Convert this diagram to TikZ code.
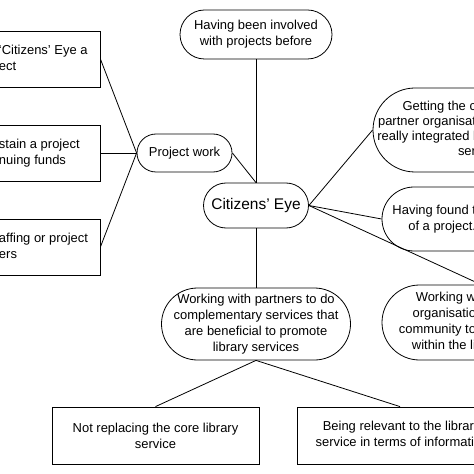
\documentclass[tikz,border=0pt]{standalone}
\usepackage{fontspec}
\setmainfont{Liberation Sans}

\newcommand{\cutright}[2]{\rlap{\hspace*{#1}\llap{\begin{tabular}{@{}r@{}}#2\end{tabular}}}}
\newcommand{\cutleft}[2]{\llap{\rlap{\begin{tabular}{@{}l@{}}#2\end{tabular}}\hspace*{#1}}}

\begin{document}
\begin{tikzpicture}[x=1bp, y=-1bp, line width=0.8bp,
	every node/.style={font=\fontsize{13}{16}\selectfont, inner sep=0pt},
	pill/.style={draw, rectangle, rounded corners=#1},
	box/.style={draw, rectangle}]
	\useasboundingbox (0,0) rectangle (474,474);
	\clip (0,0) rectangle (474,474);

	\node[pill=24.5bp, minimum width=152bp, minimum height=49bp, align=center] (inv) at (256,34.5) {Having been involved\\with projects before};
	\node[pill=22.5bp, minimum width=105bp, minimum height=45bp, font=\fontsize{15.5}{18}\selectfont] (eye) at (256,205.5) {Citizens’ Eye};
	\node[pill=19bp, minimum width=95bp, minimum height=38bp] (pw) at (184.5,153) {Project work};

	\node[box, minimum width=200bp, minimum height=56bp] (make) at (0,59) {\cutleft{1bp}{‘Citizens’ Eye a\\ect}};
	\node[box, minimum width=200bp, minimum height=56bp] (fund) at (0,153) {\cutleft{1bp}{stain a project\\nuing funds}};
	\node[box, minimum width=200bp, minimum height=56bp] (staff) at (0,247) {\cutleft{1bp}{affing or project\\ers}};

	\node[pill=42bp, minimum width=214bp, minimum height=84bp, font=\fontsize{13}{15}\selectfont] (get) at (480,130) {\cutright{-4bp}{Getting the c\\partner organisat\\really integrated l\\ser}};
	\node[pill=32bp, minimum width=196bp, minimum height=64bp] (found) at (480,219) {\cutright{-4bp}{Having found t\\of a project.}};
	\node[pill=37.5bp, minimum width=198bp, minimum height=75bp] (ww) at (481,322.5) {\cutright{-5bp}{Working w\\organisatio\\community to\\within the li}};

	\node[pill=36bp, minimum width=189bp, minimum height=72bp, align=center] (wp) at (256,324) {Working with partners to do\\complementary services that\\are beneficial to promote\\library services};
	\node[box, minimum width=207bp, minimum height=57bp, align=center] (core) at (155.5,435.5) {Not replacing the core library\\service};
	\node[box, minimum width=206bp, minimum height=57bp] (rel) at (400,435.5) {\cutright{74bp}{Being relevant to the librar\\service in terms of informati}};

	\draw (inv.south) -- (eye.north);
	\draw (pw.east) -- (eye.north);
	\draw (make.east) -- (pw.west);
	\draw (fund.east) -- (pw.west);
	\draw (staff.east) -- (pw.west);
	\draw (eye.east) -- (get.west);
	\draw (eye.east) -- (found.west);
	\draw (eye.east) -- (ww.north);
	\draw (eye.south) -- (wp.north);
	\draw (wp.south) -- (core.north);
	\draw (wp.south) -- (rel.north);
\end{tikzpicture}
\end{document}
